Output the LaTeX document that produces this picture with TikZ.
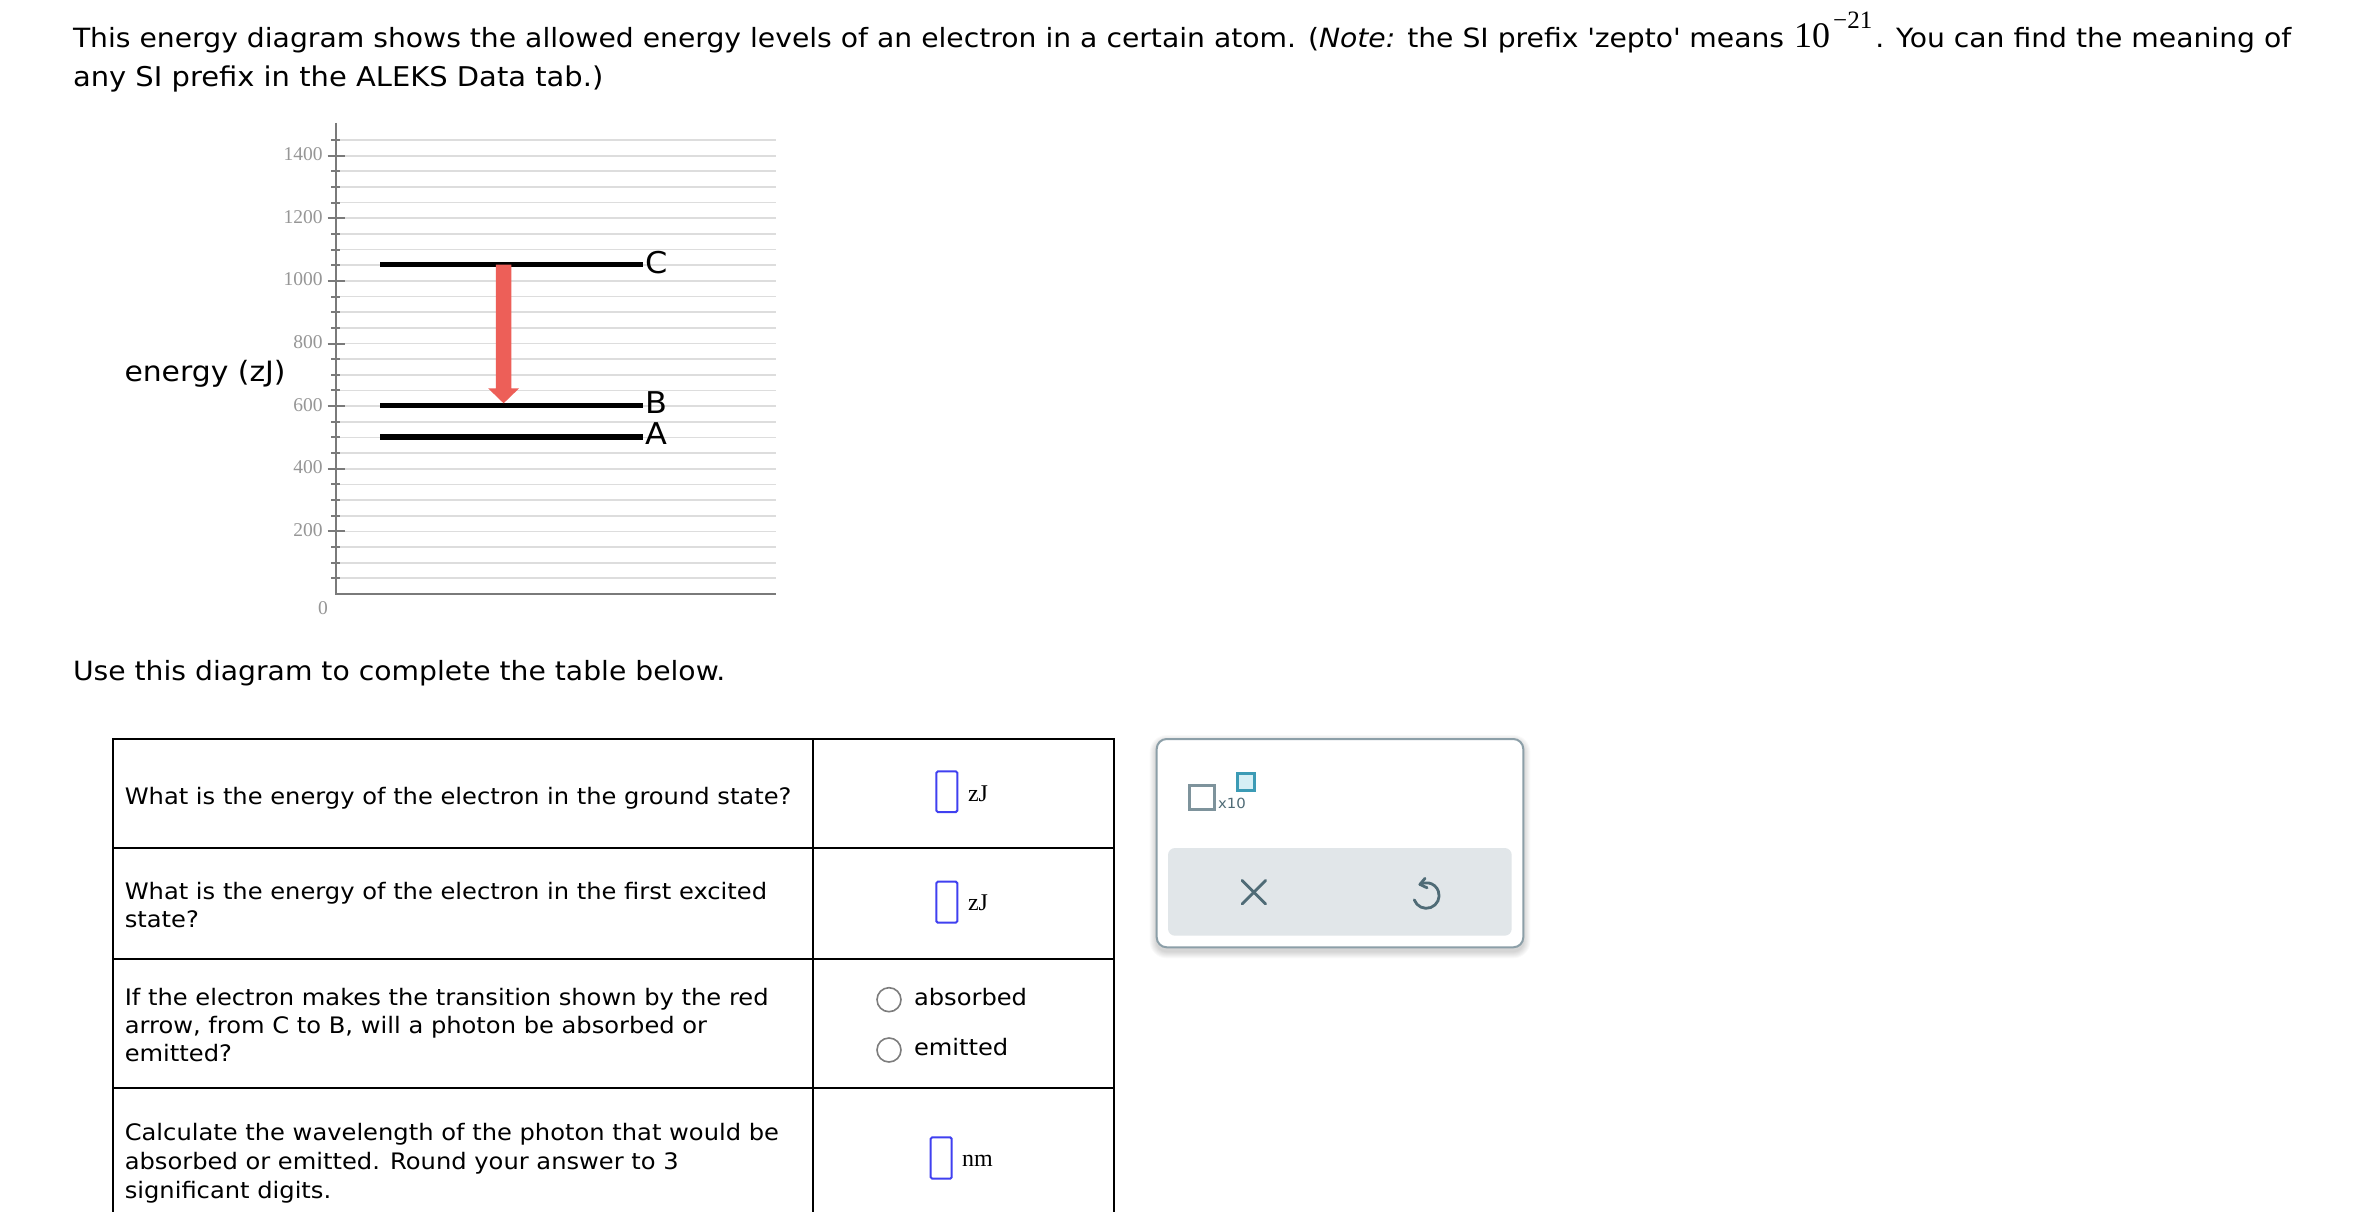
\documentclass[tikz,border=0pt]{standalone}
\usepackage{fontspec}
\setmainfont{DejaVu Sans}[FakeStretch=1.065]
\newfontfamily\numfont{Liberation Serif}
\usetikzlibrary{calc}
\definecolor{gridgray}{RGB}{221,221,221}
\definecolor{axisgray}{RGB}{122,122,122}
\definecolor{ticklabel}{RGB}{150,150,150}
\definecolor{arrowred}{RGB}{237,95,88}
\definecolor{inputblue}{RGB}{64,64,240}
\definecolor{radiogray}{RGB}{125,125,125}
\definecolor{wborder}{RGB}{140,159,168}
\definecolor{wfill}{RGB}{225,230,233}
\definecolor{iconcol}{RGB}{79,107,118}
\definecolor{supborder}{RGB}{60,155,181}
\definecolor{supfill}{RGB}{214,239,245}
\definecolor{baseborder}{RGB}{126,147,156}
\begin{document}
\begin{tikzpicture}[x=1pt,y=-1pt,
  every node/.style={inner sep=0pt,outer sep=0pt},
  body/.style={font=\fontsize{26.5}{32}\selectfont,anchor=base west},
  cell/.style={font=\fontsize{22.7}{28.5}\selectfont,anchor=base west},
  ticklab/.style={font=\numfont\fontsize{19.5}{19.5}\selectfont,text=ticklabel,anchor=east},
  gridline/.style={draw=gridgray,line width=1.7pt},
  axisline/.style={draw=axisgray,line width=2pt},
  levelline/.style={line width=5.3pt,draw=black},
  lvlabel/.style={font=\fontsize{30}{30}\selectfont,anchor=west},
  unitlab/.style={font=\numfont\fontsize{24}{24}\selectfont,anchor=base west},
  ansbox/.style={draw=inputblue,line width=2pt,rounded corners=1.5pt,minimum width=21pt},
  radiobtn/.style={circle,draw=radiogray,line width=1.6pt,minimum size=24pt},
  tableline/.style={draw=black,line width=2pt},
  icon/.style={draw=iconcol,line width=2.8pt,line cap=round,line join=round}]

\fill[white] (0,0) rectangle (2354,1212);
\useasboundingbox (0,0) rectangle (2354,1212);

% ---------- header ----------
\node[body] (h1) at (73,47.5) {This energy diagram shows the allowed energy levels of an electron in a certain atom. (\textit{Note:} the SI prefix \textquotesingle zepto\textquotesingle\ means};
\node[anchor=base west,font=\numfont\fontsize{36}{36}\selectfont] (h10) at ($(h1.base east)+(10,0)$) {10};
\node[anchor=base west,font=\numfont\fontsize{25}{25}\selectfont] (hsup) at ($(h10.base east)+(3,-18.5)$) {−21};
\node[body] (h3) at ($(hsup.base east |- h1.base)+(3,0)$) {. You can find the meaning of};
\node[body,font=\fontsize{27.2}{32}\selectfont] (h2) at (73,86.5) {any SI prefix in the ALEKS Data tab.)};

% ---------- chart ----------
\foreach \e in {50,100,...,1450}
  \draw[gridline] (337,{594-0.3131*\e}) -- (776,{594-0.3131*\e});
\foreach \e in {50,100,...,1450}
  \draw[axisline] (331,{594-0.3131*\e}) -- (340,{594-0.3131*\e});
\foreach \e in {200,400,...,1400}{
  \draw[axisline] (327.5,{594-0.3131*\e}) -- (344.7,{594-0.3131*\e});
  \node[ticklab] (t\e) at (322.5,{594-0.3131*\e-1.5}) {\e};
}
\node[font=\numfont\fontsize{19.5}{19.5}\selectfont,text=ticklabel] (t0) at (323,608.5) {0};
\draw[axisline] (336,123) -- (336,594) -- (776,594);

\node[anchor=base west,font=\fontsize{28}{28}\selectfont] (ylab) at (124.5,381) {energy (zJ)};

\coordinate (Cl) at (380,264.5); \coordinate (Cr) at (643,264.5);
\coordinate (Bl) at (380,405.5); \coordinate (Br) at (643,405.5);
\coordinate (Al) at (380,437);   \coordinate (Ar) at (643,437);
\draw[levelline] (Cl) -- (Cr);
\draw[levelline] (Bl) -- (Br);
\draw[levelline] (Al) -- (Ar);
\node[lvlabel] (labC) at ($(Cr)+(2.5,-2)$) {C};
\node[lvlabel] (labB) at ($(Br)+(2.5,-2.5)$) {B};
\node[lvlabel] (labA) at ($(Ar)+(2.5,-3)$) {A};

\coordinate (arrTop) at (503.6,264.5);
\coordinate (arrTip) at (503.6,403.3);
\fill[arrowred] ($(arrTop)+(-7.7,0)$) -- ($(arrTop)+(7.7,0)$) -- ($(arrTip)+(7.7,-15)$)
  -- ($(arrTip)+(15.5,-15)$) -- (arrTip) -- ($(arrTip)+(-15.5,-15)$) -- ($(arrTip)+(-7.7,-15)$) -- cycle;

% ---------- instruction ----------
\node[body] (use) at (73,680) {Use this diagram to complete the table below.};

% ---------- table ----------
\draw[tableline] (112.6,739) -- (1114.3,739);
\draw[tableline] (112.6,848.3) -- (1114.3,848.3);
\draw[tableline] (112.6,959) -- (1114.3,959);
\draw[tableline] (112.6,1088.3) -- (1114.3,1088.3);
\draw[tableline] (112.6,738) -- (112.6,1214);
\draw[tableline] (812.7,738) -- (812.7,1214);
\draw[tableline] (1114.3,738) -- (1114.3,1214);

\node[cell] (q1) at (124.8,804) {What is the energy of the electron in the ground state?};
\node[cell] (q2a) at (124.8,899.3) {What is the energy of the electron in the first excited};
\node[cell] (q2b) at (124.8,927.7) {state?};
\node[cell] (q3a) at (124.8,1005) {If the electron makes the transition shown by the red};
\node[cell] (q3b) at (124.8,1033.3) {arrow, from C to B, will a photon be absorbed or};
\node[cell] (q3c) at (124.8,1061.7) {emitted?};
\node[cell] (q4a) at (124.8,1140.7) {Calculate the wavelength of the photon that would be};
\node[cell] (q4b) at (124.8,1169.3) {absorbed or emitted. Round your answer to 3};
\node[cell] (q4c) at (124.8,1198.3) {significant digits.};

\node[ansbox,minimum height=40.7pt] (in1) at (946.8,791.7) {};
\node[unitlab] (u1) at (968,801) {zJ};
\node[ansbox,minimum height=41pt] (in2) at (946.8,902.2) {};
\node[unitlab] (u2) at (968,910) {zJ};
\node[radiobtn] (rb1) at (889,999.7) {};
\node[cell] (abs) at (914,1005) {absorbed};
\node[radiobtn] (rb2) at (889,1050) {};
\node[cell] (emi) at (914,1055) {emitted};
\node[ansbox,minimum height=41.4pt] (in4) at (941.2,1158) {};
\node[unitlab] (u4) at (962,1166.7) {nm};

% ---------- widget ----------
\foreach \i in {1,...,7}
  \fill[black,opacity=0.022,rounded corners={10+\i}] ({1156.7-\i},{739-\i+3}) rectangle ({1523.3+\i},{947.3+\i+4});
\draw[draw=wborder,line width=2pt,fill=white,rounded corners=10pt] (1156.7,739) rectangle (1523.3,947.3);
\fill[wfill,rounded corners=7pt] (1168,848) rectangle (1511.7,935.7);
\node[draw=baseborder,line width=3pt,minimum width=24.4pt,minimum height=24pt] (basebox) at (1202,797.5) {};
\node[anchor=base west,font=\fontsize{14}{14}\selectfont,text=iconcol] (x10) at (1218,808) {x10};
\node[draw=supborder,fill=supfill,line width=2.5pt,minimum width=17pt,minimum height=17pt] (supbox) at (1246,781.8) {};
\coordinate (xc) at (1253.8,892.2);
\draw[icon] ($(xc)+(-11.8,-11.8)$) -- ($(xc)+(11.8,11.8)$);
\draw[icon] ($(xc)+(-11.8,11.8)$) -- ($(xc)+(11.8,-11.8)$);
\coordinate (uc) at (1426.3,895.5);
\draw[icon] ($(uc)+(-200:12.8)$) arc[start angle=-200,end angle=-480,radius=12.8];
\coordinate (utip) at ($(uc)+(-120:12.8)$);
\draw[icon] ($(utip)+(5.1,-6.1)$) -- (utip) -- ($(utip)+(7.2,3.4)$);
\end{tikzpicture}
\end{document}
